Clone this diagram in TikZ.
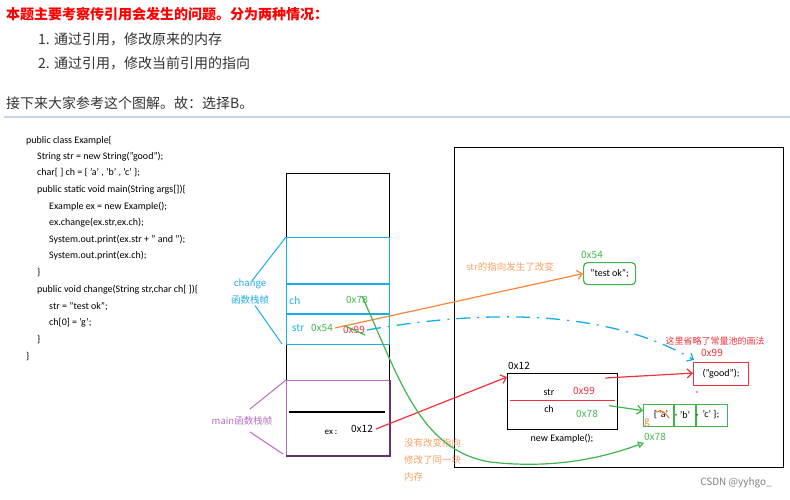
\documentclass[tikz,border=0pt]{standalone}
\usepackage{fontspec}
\setmainfont{Carlito}
\newfontfamily\cjk{Noto Sans CJK SC}
\usetikzlibrary{arrows.meta}
\definecolor{hred}{HTML}{FF0000}
\definecolor{lred}{HTML}{F0303A}
\definecolor{lblue}{HTML}{1AACE6}
\definecolor{lgreen}{HTML}{3DB54A}
\definecolor{lorange}{HTML}{F5863A}
\definecolor{torange}{HTML}{F7A066}
\definecolor{lpurple}{HTML}{B86CC0}
\definecolor{dpurple}{HTML}{6A2F6E}
\definecolor{sepcol}{HTML}{C8D3E6}
\definecolor{txt}{HTML}{333333}
\tikzset{
  code/.style={anchor=west, inner sep=0pt, font=\fontsize{10}{12}\selectfont, text=black},
  head/.style={anchor=west, inner sep=0pt, font=\cjk\fontsize{14}{16}\selectfont, text=txt},
  lab/.style={inner sep=0pt, font=\cjk\fontsize{9.5}{11}\selectfont},
  num/.style={inner sep=0pt, font=\cjk\fontsize{10}{12}\selectfont},
  plain/.style={inner sep=0pt, font=\fontsize{10}{12}\selectfont, text=black},
  barb/.style={-{Straight Barb[length=5pt,width=9pt]}},
  box/.style={draw, inner sep=0pt, anchor=north west},
}
\begin{document}
\begin{tikzpicture}[x=1pt,y=-1pt]
\useasboundingbox (0,0) rectangle (790,499);
% header
\node[head, text=hred, font=\cjk\bfseries\fontsize{14}{16}\selectfont] (h1) at (6,14) {本题主要考察传引用会发生的问题。分为两种情况：};
\node[head] (h2) at (38,39) {1. 通过引用，修改原来的内存};
\node[head] (h3) at (38,63) {2. 通过引用，修改当前引用的指向};
\node[head] (h4) at (6,103) {接下来大家参考这个图解。故：选择B。};
\draw[line width=2pt, sepcol] (4,117) -- (790,117);
% code
\node[code] (c1) at (26,141) {public class Example\{};
\node[code] (c2) at (37,157) {String str = new String("good");};
\node[code] (c3) at (37,173) {char[ ] ch = \{ 'a' , 'b' , 'c' \};};
\node[code] (c4) at (37,190) {public static void main(String args[])\{};
\node[code] (c5) at (49,207) {Example ex = new Example();};
\node[code] (c6) at (49,223) {ex.change(ex.str,ex.ch);};
\node[code] (c7) at (49,240) {System.out.print(ex.str + " and ");};
\node[code] (c8) at (49,256) {System.out.print(ex.ch);};
\node[code] (c9) at (37,273) {\}};
\node[code] (c10) at (37,290) {public void change(String str,char ch[ ])\{};
\node[code] (c11) at (49,307) {str = "test ok";};
\node[code] (c12) at (49,323) {ch[0] = 'g';};
\node[code] (c13) at (37,340) {\}};
\node[code] (c14) at (26,357) {\}};
% stack
\node[box, draw=black, line width=1.3pt, minimum width=103, minimum height=282] (stack) at (286,173) {};
\node[box, draw=lblue, line width=1.3pt, minimum width=103, minimum height=107] (cf) at (286,237) {};
\draw[lblue, line width=1.3pt] (286,284) -- (389,284);
\draw[lblue, line width=1.3pt] (286,314) -- (389,314);
\node[box, draw=lpurple, line width=1.3pt, minimum width=103, minimum height=75] (mf) at (286,380) {};
\draw[dpurple, line width=1.7pt] (mf.north east) -- (mf.south east) -- (mf.south west);
\draw[black, line width=1.1pt] (289,412) -- (385,412);
% stack labels
\node[lab, text=lblue] (chg) at (250,284) {change};
\node[lab, text=lblue] (chg2) at (250,300) {函数栈帧};
\draw[lblue, line width=1pt] ([shift={(2pt,-2pt)}]chg.north) -- (cf.north west);
\draw[lblue, line width=1pt] ([shift={(5pt,-1pt)}]chg2.south) -- (282,344);
\node[lab, text=lpurple] (mainl) at (242,421) {main函数栈帧};
\draw[lpurple, line width=1pt] (250,409) -- (mf.north west);
\draw[lpurple, line width=1pt] (250,432) -- (283,454);
\node[num, text=lblue, anchor=west] (sch) at (289,301) {ch};
\node[num, text=lgreen] (s78) at (357,300) {0x78};
\node[num, text=lblue] (sstr) at (298,328) {str};
\node[num, text=lgreen] (s54) at (322,328) {0x54};
\node[num, text=lred] (s99) at (354,330) {0x99};
\node[plain, font=\fontsize{9}{10}\selectfont] (exl) at (331,432) {ex :};
\node[num, text=black] (s12) at (362,429) {0x12};
% heap
\node[box, draw=black, line width=1.3pt, minimum width=329, minimum height=320] (heap) at (454,147) {};
\node[num, text=lgreen] (h54) at (592,255) {0x54};
\node[box, draw=lgreen, line width=1.2pt, rounded corners=4pt, minimum width=52, minimum height=22] (test) at (583,262) {};
\node[plain] (testt) at (test.center) {"test ok";};
\node[lab, text=torange] (strl) at (510,267) {str的指向发生了改变};
\node[lab, text=lred, font=\cjk\fontsize{9}{11}\selectfont] (omit) at (715,341) {这里省略了常量池的画法};
\node[num, text=lred] (g99) at (712,353) {0x99};
\node[box, draw=lred, line width=1.2pt, minimum width=55, minimum height=23] (good) at (693,362) {};
\node[plain] (goodt) at (good.center) {("good");};
\fill[lred] (697,392) circle (0.8pt);
% object
\node[num, text=black] (o12) at (519,366) {0x12};
\node[box, draw=black, line width=1.3pt, minimum width=110, minimum height=56] (obj) at (507,373) {};
\draw[lred, line width=1pt] (510,400) -- (615,400);
\node[plain] (ostr) at (549,392) {str};
\node[num, text=lred] (o99) at (584,391) {0x99};
\node[plain] (och) at (549,409) {ch};
\node[num, text=lgreen] (o78) at (587,414) {0x78};
\node[plain] (newex) at (562,439) {new Example();};
% array
\node[box, draw=lgreen, line width=1.2pt, minimum width=84, minimum height=22] (arr) at (643,404) {};
\draw[lgreen, line width=1.2pt] (674,404) -- (674,426);
\draw[lgreen, line width=1.2pt] (696,404) -- (696,426);
\node[plain] (a1) at (661,415) {\{ 'a'};
\node[plain] (a2) at (676,416) {,};
\node[plain] (a3) at (685,415) {'b'};
\node[plain] (a4) at (697,416) {,};
\node[plain] (a5) at (711,415) {'c' \};};
\draw[lorange, line width=1.3pt] (656,412) .. controls (661,409) and (665,412) .. (669,418);
\node[num, text=lorange] (gg) at (647,423) {g};
\node[num, text=lgreen] (a78) at (655,437) {0x78};
% orange note
\node[lab, text=torange, anchor=west] (n1) at (404,443) {没有改变指向};
\node[lab, text=torange, anchor=west] (n2) at (404,460) {修改了同一块};
\node[lab, text=torange, anchor=west] (n3) at (404,477) {内存};
% connectors
\draw[lorange, line width=1.2pt, barb] ([xshift=2pt]s54.east) -- (test.west);
\draw[lblue, line width=1.3pt, barb, dash pattern=on 14pt off 7pt on 2pt off 7pt]
  ([xshift=2pt]s99.east) .. controls (470,312) and (600,305) .. ([shift={(1pt,2pt)}]good.north west);
\draw[lred, line width=1.2pt, barb] ([xshift=3pt]s12.east) -- ([yshift=-4pt]obj.north west);
\draw[lred, line width=1.2pt, barb] ([shift={(-13pt,-5pt)}]obj.north east) -- ([yshift=1pt]good.west);
\draw[lgreen, line width=1.2pt, barb] ([shift={(-9pt,-4pt)}]obj.east) -- ([yshift=5pt]arr.west);
\draw[lgreen, line width=1.2pt] (345,326) -- (365,335);
\draw[lgreen, line width=1.2pt, -{Triangle[open,length=6pt,width=7pt]}]
  ([xshift=5pt]s78.north) .. controls (400,380) and (420,450) .. (490,462)
  .. controls (560,470) and (610,455) .. ([yshift=-2pt]a78.south west);
% watermark
\node[inner sep=0pt, font=\cjk\fontsize{10}{12}\selectfont, text=gray] (wm) at (736,483) {CSDN @yyhgo\_};
\end{tikzpicture}
\end{document}
